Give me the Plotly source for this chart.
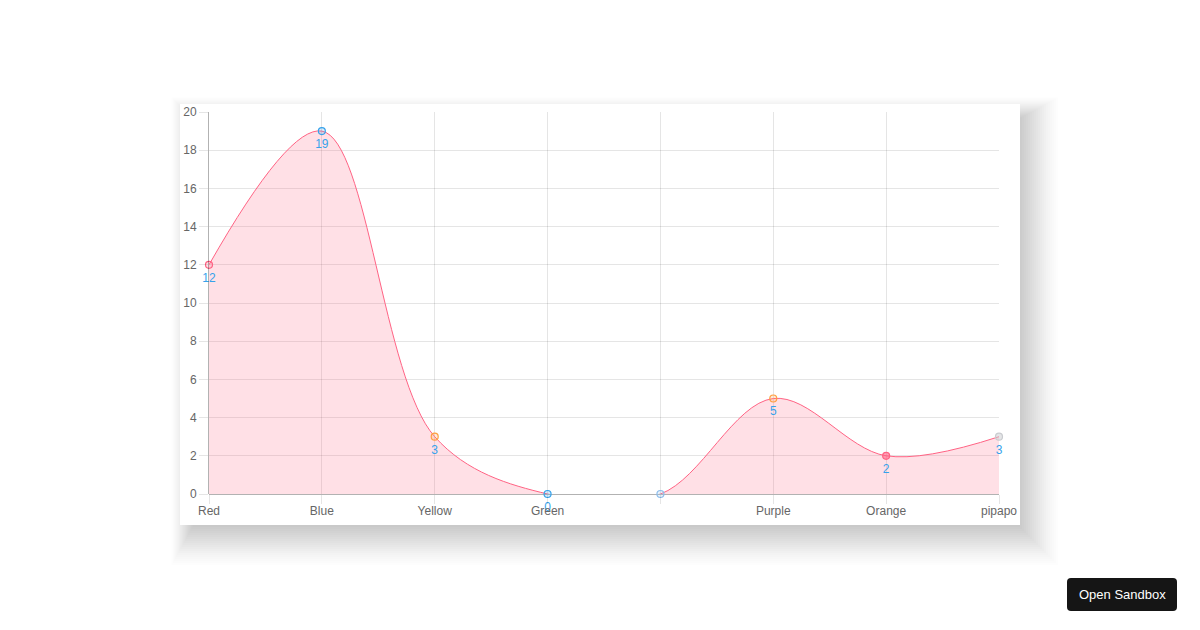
import plotly.graph_objects as go

categories = ["Red", "Blue", "Yellow", "Green", "", "Purple", "Orange", "pipapo"]
values = [12, 19, 3, 0, 0, 5, 2, 3]
value_labels = ["12", "19", "3", "0", "", "5", "2", "3"]
point_border = ["rgb(255,99,132)", "rgb(54,162,235)", "rgb(255,159,64)", "rgb(54,162,235)",
                "rgb(140,188,235)", "rgb(255,159,64)", "rgb(255,99,132)", "rgb(201,203,207)"]
point_fill = ["rgba(255,99,132,0.2)", "rgba(54,162,235,0.2)", "rgba(255,159,64,0.2)", "rgba(54,162,235,0.2)",
              "rgba(140,188,235,0.2)", "rgba(255,159,64,0.2)", "rgba(255,99,132,0.6)", "rgba(201,203,207,0.5)"]
y_ticks = list(range(0, 21, 2))

OFF = 8  # page body margin
W, H = 1200 - 2 * OFF, 630 - 2 * OFF
L, R, T, B = 209 - OFF, 999 - OFF, 112 - OFF, 494 - OFF
PW, PH = R - L, B - T


def px(x):
    return (x - OFF - L) / PW


def py(y):
    return (B - (y - OFF)) / PH


fig = go.Figure()
fig.add_trace(go.Scatter(
    x=list(range(len(categories))), y=values,
    mode="lines+markers",
    line=dict(color="rgb(255,99,132)", width=1, shape="spline", smoothing=1.0),
    fill="tozeroy", fillcolor="rgba(255,99,132,0.2)",
    marker=dict(size=7, color=point_fill, line=dict(color=point_border, width=1.2)),
    cliponaxis=False, hoverinfo="x+y", showlegend=False,
))
fig.add_trace(go.Scatter(
    x=list(range(len(categories))), y=values,
    mode="markers+text",
    marker=dict(size=11, opacity=0),
    text=value_labels, textposition="bottom center",
    textfont=dict(color="rgb(54,162,235)", size=12, family="Liberation Sans, Arial, sans-serif"),
    cliponaxis=False, hoverinfo="skip", showlegend=False,
))

shapes = []
# soft (blurred) card shadow, stronger to the bottom-right
card = (180, 104, 1020, 525)
sdx, sdy = 8, 10
for s in range(-20, 31, 2):
    a = 0.012 if s < 20 else 0.007
    shapes.append(dict(type="rect", xref="paper", yref="paper", layer="below",
                       x0=px(card[0] + sdx - s * 0.55), x1=px(card[2] + sdx + s),
                       y0=py(card[3] + sdy + s), y1=py(card[1] + sdy - s * 0.55),
                       line=dict(width=0), fillcolor=f"rgba(0,0,0,{a})"))
shapes.append(dict(type="rect", xref="paper", yref="paper", layer="below",
                   x0=px(card[0]), x1=px(card[2]), y0=py(card[3]), y1=py(card[1]),
                   line=dict(width=0), fillcolor="white"))
# button (rounded)
bx0, bx1, by0, by1, r = px(1067), px(1177), py(611), py(578), 4
rx, ry = r / PW, r / PH
path = (f"M {bx0+rx},{by0} L {bx1-rx},{by0} Q {bx1},{by0} {bx1},{by0+ry} "
        f"L {bx1},{by1-ry} Q {bx1},{by1} {bx1-rx},{by1} L {bx0+rx},{by1} "
        f"Q {bx0},{by1} {bx0},{by1-ry} L {bx0},{by0+ry} Q {bx0},{by0} {bx0+rx},{by0} Z")
shapes.append(dict(type="path", xref="paper", yref="paper", layer="above", path=path,
                   line=dict(width=0), fillcolor="#151515"))

fig.update_layout(
    width=W, height=H,
    margin=dict(l=L, r=W - R, t=T, b=H - B, pad=0),
    paper_bgcolor="white", plot_bgcolor="rgba(0,0,0,0)",
    font=dict(family="Liberation Sans, Arial, sans-serif", size=12, color="#666"),
    shapes=shapes,
    annotations=[dict(text="Open Sandbox", xref="paper", yref="paper", x=px(1122), y=py(594.5),
                      showarrow=False, font=dict(color="white", size=13, family="Liberation Sans, Arial, sans-serif"),
                      xanchor="center", yanchor="middle")],
    xaxis=dict(
        range=[0, len(categories) - 1], tickmode="array",
        tickvals=list(range(len(categories))), ticktext=categories,
        showgrid=True, gridcolor="rgba(0,0,0,0.1)", gridwidth=1,
        ticks="outside", ticklen=9, tickcolor="rgba(0,0,0,0.1)",
        ticklabelstandoff=-3,
        showline=False, zeroline=False, fixedrange=True,
        tickfont=dict(size=12, color="#666"),
    ),
    yaxis=dict(
        range=[0, 20], tickmode="array", tickvals=y_ticks,
        showgrid=True, gridcolor="rgba(0,0,0,0.1)", gridwidth=1,
        ticks="outside", ticklen=9, tickcolor="rgba(0,0,0,0.1)",
        showline=True, linecolor="rgba(0,0,0,0.3)", linewidth=1,
        zeroline=True, zerolinecolor="rgba(0,0,0,0.3)", zerolinewidth=1,
        fixedrange=True, tickfont=dict(size=12, color="#666"),
    ),
)

fig.write_html("out.html", config={"displayModeBar": False})
